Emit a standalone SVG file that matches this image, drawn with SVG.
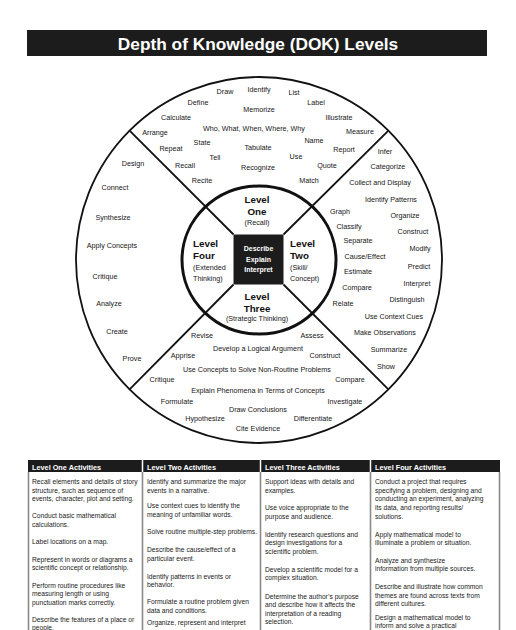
<svg xmlns="http://www.w3.org/2000/svg" width="516" height="630" viewBox="0 0 516 630">
<style>
text{font-family:"Liberation Sans",Arial,sans-serif;fill:#161616}
.w{font-size:7.2px;text-anchor:middle}
.lv{font-size:9.8px;font-weight:bold;fill:#111}
.sub{font-size:7.2px}
.c{text-anchor:middle}
.sq{font-size:7px;font-weight:bold;fill:#fff;text-anchor:middle}
.th{font-size:7.3px;font-weight:bold;fill:#fff}
.tb{font-size:6.7px;fill:#1a1a1a}
.ln{stroke:#111;stroke-width:1.8;fill:none}
.col{stroke:#8a8a8a;stroke-width:1.6}
</style>
<rect width="516" height="630" fill="#fff"/>
<g id="title">
<rect x="27" y="30" width="460" height="26" fill="#1c1c1c"/>
<text x="258" y="49.5" style="font-size:17.3px;font-weight:bold;fill:#fff;text-anchor:middle">Depth of Knowledge (DOK) Levels</text>
</g>
<g id="wheel">
<circle cx="259" cy="260" r="183" class="ln"/>
<ellipse cx="259" cy="260" rx="77" ry="74" fill="none" stroke="#111" stroke-width="3"/>
</g>
<g id="connectors">
<line x1="129.6" y1="130.6" x2="233.5" y2="234.5" class="ln"/>
<line x1="388.4" y1="130.6" x2="283.5" y2="234.5" class="ln"/>
<line x1="129.6" y1="389.4" x2="233.5" y2="284.5" class="ln"/>
<line x1="388.4" y1="389.4" x2="283.5" y2="284.5" class="ln"/>
</g>
<g id="center">
<rect x="233.5" y="234.5" width="50" height="50" fill="#1c1c1c"/>
<text class="sq" x="258.5" y="250.5">Describe</text>
<text class="sq" x="258.5" y="261.5">Explain</text>
<text class="sq" x="258.5" y="272">Interpret</text>
</g>
<g id="level-one">
<text class="lv c" x="257" y="202.5">Level</text>
<text class="lv c" x="257" y="214.5">One</text>
<text class="sub c" x="257" y="224.5">(Recall)</text>
</g>
<g id="level-two">
<text class="lv" x="290" y="246.5">Level</text>
<text class="lv" x="290" y="258.5">Two</text>
<text class="sub" x="290" y="269.5">(Skill/</text>
<text class="sub" x="290" y="280.5">Concept)</text>
</g>
<g id="level-three">
<text class="lv c" x="257" y="299.5">Level</text>
<text class="lv c" x="257" y="311.5">Three</text>
<text class="sub c" x="257" y="321">(Strategic Thinking)</text>
</g>
<g id="level-four">
<text class="lv" x="193" y="246.5">Level</text>
<text class="lv" x="193" y="258.5">Four</text>
<text class="sub" x="193" y="269.5">(Extended</text>
<text class="sub" x="193" y="280.5">Thinking)</text>
</g>
<g id="words-one">
<text class="w" x="225" y="93.5">Draw</text>
<text class="w" x="259" y="91.5">Identify</text>
<text class="w" x="294" y="94.5">List</text>
<text class="w" x="198" y="104.5">Define</text>
<text class="w" x="316" y="104.5">Label</text>
<text class="w" x="259" y="111.5">Memorize</text>
<text class="w" x="176" y="119.5">Calculate</text>
<text class="w" x="339" y="119.5">Illustrate</text>
<text class="w" x="254" y="130.5">Who, What, When, Where, Why</text>
<text class="w" x="155" y="134.5">Arrange</text>
<text class="w" x="360" y="133.5">Measure</text>
<text class="w" x="202" y="144.5">State</text>
<text class="w" x="314" y="142.5">Name</text>
<text class="w" x="171" y="150.5">Repeat</text>
<text class="w" x="258" y="149.5">Tabulate</text>
<text class="w" x="344" y="151.5">Report</text>
<text class="w" x="215" y="159.5">Tell</text>
<text class="w" x="296" y="158.5">Use</text>
<text class="w" x="185" y="167.5">Recall</text>
<text class="w" x="258" y="169.5">Recognize</text>
<text class="w" x="327" y="167.5">Quote</text>
<text class="w" x="202" y="182.5">Recite</text>
<text class="w" x="309" y="182.5">Match</text>
</g>
<g id="words-two">
<text class="w" x="385" y="153.5">Infer</text>
<text class="w" x="388" y="168.5">Categorize</text>
<text class="w" x="380" y="184.5">Collect and Display</text>
<text class="w" x="391" y="201.5">Identify Patterns</text>
<text class="w" x="340" y="213.5">Graph</text>
<text class="w" x="405" y="217.5">Organize</text>
<text class="w" x="349" y="228.5">Classify</text>
<text class="w" x="413" y="233.5">Construct</text>
<text class="w" x="358" y="242.5">Separate</text>
<text class="w" x="420" y="250.5">Modify</text>
<text class="w" x="365" y="258.5">Cause/Effect</text>
<text class="w" x="419" y="268.5">Predict</text>
<text class="w" x="358" y="273.5">Estimate</text>
<text class="w" x="417" y="285.5">Interpret</text>
<text class="w" x="357" y="289.5">Compare</text>
<text class="w" x="407" y="301.5">Distinguish</text>
<text class="w" x="343" y="305.5">Relate</text>
<text class="w" x="394" y="318.5">Use Context Cues</text>
<text class="w" x="385" y="334.5">Make Observations</text>
<text class="w" x="389" y="351.5">Summarize</text>
<text class="w" x="386" y="368.5">Show</text>
</g>
<g id="words-three">
<text class="w" x="202" y="337.5">Revise</text>
<text class="w" x="312" y="337.5">Assess</text>
<text class="w" x="258" y="350.5">Develop a Logical Argument</text>
<text class="w" x="183" y="357.5">Apprise</text>
<text class="w" x="325" y="357.5">Construct</text>
<text class="w" x="257" y="371.5">Use Concepts to Solve Non-Routine Problems</text>
<text class="w" x="162" y="381.5">Critique</text>
<text class="w" x="350" y="381.5">Compare</text>
<text class="w" x="258" y="392.5">Explain Phenomena in Terms of Concepts</text>
<text class="w" x="177" y="403.5">Formulate</text>
<text class="w" x="345" y="403.5">Investigate</text>
<text class="w" x="258" y="411.5">Draw Conclusions</text>
<text class="w" x="205" y="420.5">Hypothesize</text>
<text class="w" x="313" y="420.5">Differentiate</text>
<text class="w" x="258" y="430.5">Cite Evidence</text>
</g>
<g id="words-four">
<text class="w" x="133" y="165.5">Design</text>
<text class="w" x="115" y="189.5">Connect</text>
<text class="w" x="113" y="219.5">Synthesize</text>
<text class="w" x="112" y="247.5">Apply Concepts</text>
<text class="w" x="105" y="278.5">Critique</text>
<text class="w" x="109" y="305.5">Analyze</text>
<text class="w" x="117" y="333.5">Create</text>
<text class="w" x="132" y="360.5">Prove</text>
</g>
<g id="table">
<rect x="28" y="460" width="472" height="12" fill="#1c1c1c"/>
<line x1="142.5" y1="460" x2="142.5" y2="472" stroke="#fff" stroke-width="1.5"/>
<line x1="260.5" y1="460" x2="260.5" y2="472" stroke="#fff" stroke-width="1.5"/>
<line x1="370.5" y1="460" x2="370.5" y2="472" stroke="#fff" stroke-width="1.5"/>
<line x1="28.5" y1="472" x2="28.5" y2="630" class="col" stroke-width="1"/>
<line x1="142.5" y1="472" x2="142.5" y2="630" class="col"/>
<line x1="260.5" y1="472" x2="260.5" y2="630" class="col"/>
<line x1="370.5" y1="472" x2="370.5" y2="630" class="col"/>
<line x1="499.5" y1="472" x2="499.5" y2="630" class="col" stroke-width="1"/>
<text class="th" x="32" y="469.5">Level One Activities</text>
<text class="th" x="147" y="469.5">Level Two Activities</text>
<text class="th" x="265" y="469.5">Level Three Activities</text>
<text class="th" x="375" y="469.5">Level Four Activities</text>
</g>
<g id="col-one">
<text class="tb" x="32" y="483.5">Recall elements and details of story</text>
<text class="tb" x="32" y="492.5">structure, such as sequence of</text>
<text class="tb" x="32" y="500.5">events, character, plot and setting.</text>
<text class="tb" x="32" y="517.5">Conduct basic mathematical</text>
<text class="tb" x="32" y="526.5">calculations.</text>
<text class="tb" x="32" y="543.5">Label locations on a map.</text>
<text class="tb" x="32" y="561.5">Represent in words or diagrams a</text>
<text class="tb" x="32" y="569.5">scientific concept or relationship.</text>
<text class="tb" x="32" y="587.5">Perform routine procedures like</text>
<text class="tb" x="32" y="595.5">measuring length or using</text>
<text class="tb" x="32" y="604.5">punctuation marks correctly.</text>
<text class="tb" x="32" y="621.5">Describe the features of a place or</text>
<text class="tb" x="32" y="629.5">people.</text>
</g>
<g id="col-two">
<text class="tb" x="147" y="483.5">Identify and summarize the major</text>
<text class="tb" x="147" y="492.5">events in a narrative.</text>
<text class="tb" x="147" y="507.5">Use context cues to identify the</text>
<text class="tb" x="147" y="516.5">meaning of unfamiliar words.</text>
<text class="tb" x="147" y="533.5">Solve routine multiple-step problems.</text>
<text class="tb" x="147" y="551.5">Describe the cause/effect of a</text>
<text class="tb" x="147" y="560.5">particular event.</text>
<text class="tb" x="147" y="578.5">Identify patterns in events or</text>
<text class="tb" x="147" y="586.5">behavior.</text>
<text class="tb" x="147" y="603.5">Formulate a routine problem given</text>
<text class="tb" x="147" y="612.5">data and conditions.</text>
<text class="tb" x="147" y="625">Organize, represent and interpret</text>
</g>
<g id="col-three">
<text class="tb" x="265" y="483.5">Support ideas with details and</text>
<text class="tb" x="265" y="492.5">examples.</text>
<text class="tb" x="265" y="509.5">Use voice appropriate to the</text>
<text class="tb" x="265" y="518.5">purpose and audience.</text>
<text class="tb" x="265" y="536.5">Identify research questions and</text>
<text class="tb" x="265" y="544.5">design investigations for a</text>
<text class="tb" x="265" y="553.5">scientific problem.</text>
<text class="tb" x="265" y="571.5">Develop a scientific model for a</text>
<text class="tb" x="265" y="579.5">complex situation.</text>
<text class="tb" x="265" y="598.5">Determine the author’s purpose</text>
<text class="tb" x="265" y="606.5">and describe how it affects the</text>
<text class="tb" x="265" y="615.5">interpretation of a reading</text>
<text class="tb" x="265" y="623.5">selection.</text>
</g>
<g id="col-four">
<text class="tb" x="375" y="483.5">Conduct a project that requires</text>
<text class="tb" x="375" y="492.5">specifying a problem, designing and</text>
<text class="tb" x="375" y="500.5">conducting an experiment, analyzing</text>
<text class="tb" x="375" y="509.5">its data, and reporting results/</text>
<text class="tb" x="375" y="518.5">solutions.</text>
<text class="tb" x="375" y="536.5">Apply mathematical model to</text>
<text class="tb" x="375" y="544.5">illuminate a problem or situation.</text>
<text class="tb" x="375" y="562.5">Analyze and synthesize</text>
<text class="tb" x="375" y="570.5">information from multiple sources.</text>
<text class="tb" x="375" y="588.5">Describe and illustrate how common</text>
<text class="tb" x="375" y="597.5">themes are found across texts from</text>
<text class="tb" x="375" y="605.5">different cultures.</text>
<text class="tb" x="375" y="619.5">Design a mathematical model to</text>
<text class="tb" x="375" y="628">inform and solve a practical</text>
</g>
</svg>
